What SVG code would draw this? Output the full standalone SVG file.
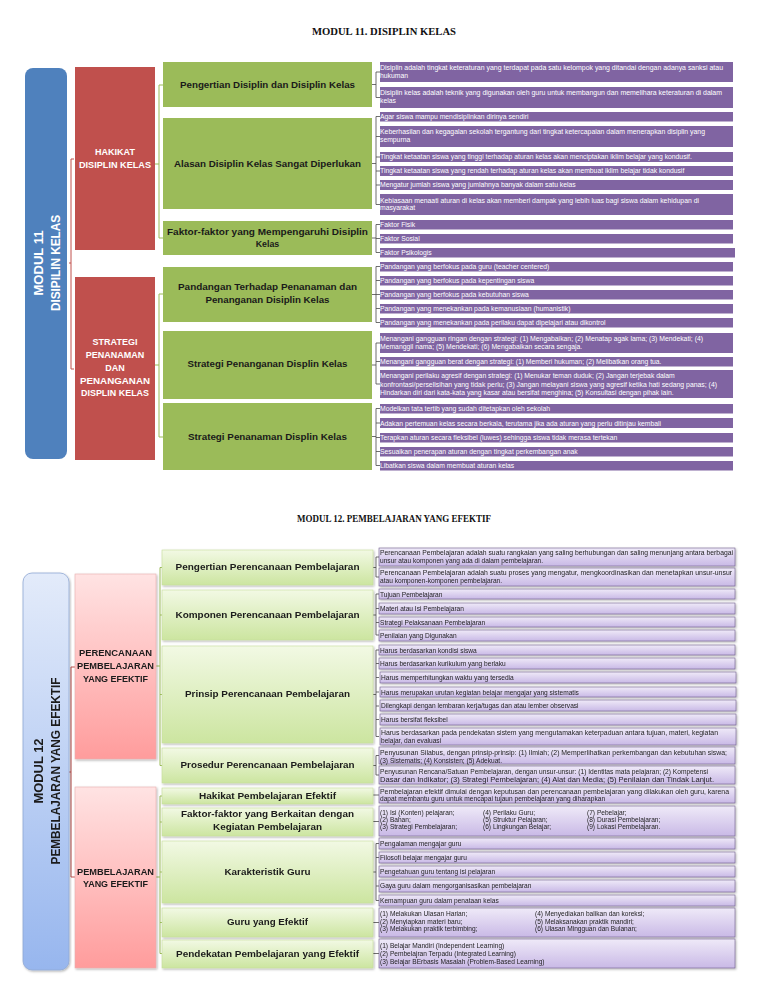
<svg xmlns="http://www.w3.org/2000/svg" width="768" height="1006" viewBox="0 0 768 1006">
<defs>
<style>
text{font-family:"Liberation Sans",Arial,sans-serif;dominant-baseline:central}
.title{font-family:"Liberation Serif","DejaVu Serif",serif;font-weight:bold;font-size:10px;fill:#111;text-anchor:middle}
.b11{fill:#4F81BD}
.r11{fill:#C0504D}
.g11{fill:#9BBB59}
.p11{fill:#8064A2}
.wt{fill:#fff;font-weight:bold;text-anchor:middle}
.gt{fill:#1a1a1a;font-weight:bold;font-size:8.8px;text-anchor:middle}
.pt{fill:#fff;font-size:6.8px}
.qt{fill:#1e1e1e;font-size:6.6px}
.dt{fill:#1a1a1a;font-weight:bold;text-anchor:middle}
.b12{fill:url(#gB);stroke:#8FA8D4;stroke-width:0.8}
.r12{fill:url(#gR);stroke:#E8B0B0;stroke-width:0.6}
.g12{fill:url(#gG);stroke:#C6DC9C;stroke-width:0.6}
.p12{fill:url(#gP);stroke:#6E5E8C;stroke-width:0.6}
.cr{stroke:#C0504D;stroke-width:1;fill:none}
.cg{stroke:#9BBB59;stroke-width:1;fill:none}
.cp{stroke:#4a4a4a;stroke-width:0.8;fill:none}
</style>
<linearGradient id="gB" x1="0" y1="0" x2="0" y2="1"><stop offset="0" stop-color="#E3EBFA"/><stop offset="1" stop-color="#97B6EE"/></linearGradient>
<linearGradient id="gR" x1="0" y1="0" x2="0" y2="1"><stop offset="0" stop-color="#FFE3E3"/><stop offset="1" stop-color="#FF9C9C"/></linearGradient>
<linearGradient id="gG" x1="0" y1="0" x2="0" y2="1"><stop offset="0" stop-color="#F2F9E4"/><stop offset="1" stop-color="#CCE5A0"/></linearGradient>
<linearGradient id="gP" x1="0" y1="0" x2="0" y2="1"><stop offset="0" stop-color="#EFEAF8"/><stop offset="1" stop-color="#C9B9E6"/></linearGradient>
<filter id="sh" x="-5%" y="-20%" width="110%" height="150%"><feDropShadow dx="1" dy="1.2" stdDeviation="0.8" flood-color="#000" flood-opacity="0.3"/></filter>
</defs>
<rect width="768" height="1006" fill="#fff"/>

<text class="title" x="384" y="31" textLength="144" lengthAdjust="spacingAndGlyphs">MODUL 11. DISIPLIN KELAS</text>
<text class="title" x="394" y="518" textLength="194" lengthAdjust="spacingAndGlyphs">MODUL 12. PEMBELAJARAN YANG EFEKTIF</text>

<!-- ================= MODUL 11 connectors ================= -->
<g id="connectors11">
<path class="cr" d="M69,263 H71 M74,159 H71 V369 H74"/>
<path class="cg" d="M155,164 H159 M163,85 H159 V238 H163"/>
<path class="cg" d="M155,365 H159 M163,294 H159 V437 H163"/>
<path class="cp" d="M372,84.5 H376 M380,72 H376 V97.5 H380"/>
<path class="cp" d="M372,163.5 H376 M380,116.5 H376 V204.5 H380 M376,136.5 H380 M376,157 H380 M376,171 H380 M376,185 H380"/>
<path class="cp" d="M372,238 H376 M380,224.5 H376 V252.5 H380 M376,238.5 H380"/>
<path class="cp" d="M372,294.5 H376 M380,266.5 H376 V322.5 H380 M376,280.5 H380 M376,294.5 H380 M376,308.5 H380"/>
<path class="cp" d="M372,365 H376 M380,343 H376 V384 H380 M376,361.5 H380"/>
<path class="cp" d="M372,436.5 H376 M380,408.5 H376 V465.5 H380 M376,423 H380 M376,437.5 H380 M376,451.5 H380"/>
</g>

<g id="m11-root">
<rect class="b11" x="25" y="68" width="42" height="391" rx="8"/>
<text class="wt" font-size="12" transform="translate(38.5,263) rotate(-90)" textLength="65" lengthAdjust="spacingAndGlyphs">MODUL 11</text>
<text class="wt" font-size="12" transform="translate(55.5,263) rotate(-90)" textLength="96" lengthAdjust="spacingAndGlyphs">DISIPILIN KELAS</text>
</g>

<g id="m11-hakikat">
<rect class="r11" x="75" y="67" width="80" height="183"/>
<text class="wt" font-size="9" x="115" y="151.7">HAKIKAT</text>
<text class="wt" font-size="9" x="115" y="165" textLength="72" lengthAdjust="spacingAndGlyphs">DISIPLIN KELAS</text>
</g>
<g id="m11-strategi">
<rect class="r11" x="75" y="277" width="80" height="183"/>
<text class="wt" font-size="9" x="115" y="342.3">STRATEGI</text>
<text class="wt" font-size="9" x="115" y="355">PENANAMAN</text>
<text class="wt" font-size="9" x="115" y="368.3">DAN</text>
<text class="wt" font-size="9" x="115" y="380.7" textLength="70" lengthAdjust="spacingAndGlyphs">PENANGANAN</text>
<text class="wt" font-size="9" x="115" y="393.3" textLength="68" lengthAdjust="spacingAndGlyphs">DISPLIN KELAS</text>
</g>

<g id="m11-g1"><rect class="g11" x="163" y="62" width="209" height="45"/><text class="gt" x="267.5" y="85" textLength="175" lengthAdjust="spacingAndGlyphs">Pengertian Disiplin dan Disiplin Kelas</text></g>
<g id="m11-g2"><rect class="g11" x="163" y="118" width="209" height="91"/><text class="gt" x="267.5" y="164" textLength="187" lengthAdjust="spacingAndGlyphs">Alasan Disiplin Kelas Sangat Diperlukan</text></g>
<g id="m11-g3"><rect class="g11" x="163" y="221" width="209" height="34"/><text class="gt" x="267.5" y="232.3" textLength="201" lengthAdjust="spacingAndGlyphs">Faktor-faktor yang Mempengaruhi Disiplin</text><text class="gt" x="267.5" y="244">Kelas</text></g>
<g id="m11-g4"><rect class="g11" x="163" y="267" width="209" height="55"/><text class="gt" x="267.5" y="287.3" textLength="179" lengthAdjust="spacingAndGlyphs">Pandangan Terhadap Penanaman dan</text><text class="gt" x="267.5" y="300" textLength="124" lengthAdjust="spacingAndGlyphs">Penanganan Disiplin Kelas</text></g>
<g id="m11-g5"><rect class="g11" x="163" y="331" width="209" height="68"/><text class="gt" x="267.5" y="364.3" textLength="160" lengthAdjust="spacingAndGlyphs">Strategi Penanganan Displin Kelas</text></g>
<g id="m11-g6"><rect class="g11" x="163" y="403" width="209" height="67"/><text class="gt" x="267.5" y="436.7" textLength="159" lengthAdjust="spacingAndGlyphs">Strategi Penanaman Displin Kelas</text></g>

<g id="m11-leaves">
<g id="m11-p1"><rect class="p11" x="380" y="62" width="353" height="20"/><text class="pt" x="380" y="67.7" textLength="343" lengthAdjust="spacingAndGlyphs">Disiplin adalah tingkat keteraturan yang terdapat pada satu kelompok yang ditandai dengan adanya sanksi atau</text><text class="pt" x="380" y="75.7">hukuman</text></g>
<g id="m11-p2"><rect class="p11" x="380" y="87" width="353" height="21"/><text class="pt" x="380" y="92.7" textLength="342" lengthAdjust="spacingAndGlyphs">Disiplin kelas adalah teknik yang digunakan oleh guru untuk membangun dan memelihara keteraturan di dalam</text><text class="pt" x="380" y="100.7">kelas</text></g>
<g id="m11-p3"><rect class="p11" x="380" y="112" width="353" height="9.5"/><text class="pt" x="380" y="116.7">Agar siswa mampu mendisiplinkan dirinya sendiri</text></g>
<g id="m11-p4"><rect class="p11" x="380" y="126" width="353" height="21"/><text class="pt" x="380" y="131" textLength="325" lengthAdjust="spacingAndGlyphs">Keberhasilan dan kegagalan sekolah tergantung dari tingkat ketercapaian dalam menerapkan disiplin yang</text><text class="pt" x="380" y="139.3">sempurna</text></g>
<g id="m11-p5"><rect class="p11" x="380" y="152" width="353" height="10"/><text class="pt" x="380" y="156.5">Tingkat ketaatan siswa yang tinggi terhadap aturan kelas akan menciptakan iklim belajar yang kondusif.</text></g>
<g id="m11-p6"><rect class="p11" x="380" y="166" width="353" height="10"/><text class="pt" x="380" y="170.5">Tingkat ketaatan siswa yang rendah terhadap aturan kelas akan membuat iklim belajar tidak kondusif</text></g>
<g id="m11-p7"><rect class="p11" x="380" y="180" width="353" height="10"/><text class="pt" x="380" y="184.5">Mengatur jumlah siswa yang jumlahnya banyak dalam satu kelas</text></g>
<g id="m11-p8"><rect class="p11" x="380" y="194" width="353" height="21"/><text class="pt" x="380" y="200" textLength="319" lengthAdjust="spacingAndGlyphs">Kebiasaan menaati aturan di kelas akan memberi dampak yang lebih luas bagi siswa dalam kehidupan di</text><text class="pt" x="380" y="207.7">masyarakat</text></g>
<g id="m11-p9"><rect class="p11" x="380" y="220" width="353" height="9.5"/><text class="pt" x="380" y="224.5">Faktor Fisik</text></g>
<g id="m11-p10"><rect class="p11" x="380" y="234" width="353" height="9.5"/><text class="pt" x="380" y="238.5" font-size="7.6">Faktor Sosial</text></g>
<g id="m11-p11"><rect class="p11" x="380" y="248" width="355" height="9.5"/><text class="pt" x="380" y="252.5">Faktor Psikologis</text></g>
<g id="m11-p12"><rect class="p11" x="380" y="262" width="353" height="9.5"/><text class="pt" x="380" y="266.5">Pandangan yang berfokus pada guru (teacher centered)</text></g>
<g id="m11-p13"><rect class="p11" x="380" y="276" width="353" height="9.5"/><text class="pt" x="380" y="280.5">Pandangan yang berfokus pada kepentingan siswa</text></g>
<g id="m11-p14"><rect class="p11" x="380" y="290" width="353" height="9.5"/><text class="pt" x="380" y="294.5">Pandangan yang berfokus pada kebutuhan siswa</text></g>
<g id="m11-p15"><rect class="p11" x="380" y="304" width="353" height="9.5"/><text class="pt" x="380" y="308.5">Pandangan yang menekankan pada kemanusiaan (humanistik)</text></g>
<g id="m11-p16"><rect class="p11" x="380" y="318" width="353" height="9.5"/><text class="pt" x="380" y="322.5">Pandangan yang menekankan pada perilaku dapat dipelajari atau dikontrol</text></g>
<g id="m11-p17"><rect class="p11" x="380" y="333" width="353" height="20"/><text class="pt" x="380" y="338" textLength="323" lengthAdjust="spacingAndGlyphs">Menangani gangguan ringan dengan strategi: (1) Mengabaikan; (2) Menatap agak lama; (3) Mendekati; (4)</text><text class="pt" x="380" y="346">Memanggil nama; (5) Mendekati; (6) Mengabaikan secara sengaja.</text></g>
<g id="m11-p18"><rect class="p11" x="380" y="357" width="353" height="9.5"/><text class="pt" x="380" y="361.5">Menangani gangguan berat dengan strategi: (1) Memberi hukuman; (2) Melibatkan orang tua.</text></g>
<g id="m11-p19"><rect class="p11" x="380" y="370" width="353" height="28"/><text class="pt" x="380" y="375.7">Menangani perilaku agresif dengan strategi: (1) Menukar teman duduk; (2) Jangan terjebak dalam</text><text class="pt" x="380" y="384" textLength="337" lengthAdjust="spacingAndGlyphs">konfrontasi/perselisihan yang tidak perlu; (3) Jangan melayani siswa yang agresif ketika hati sedang panas; (4)</text><text class="pt" x="380" y="392">Hindarkan diri dari kata-kata yang kasar atau bersifat menghina; (5) Konsultasi dengan pihak lain.</text></g>
<g id="m11-p20"><rect class="p11" x="380" y="404" width="353" height="9.5"/><text class="pt" x="380" y="408.5">Modelkan tata tertib yang sudah ditetapkan oleh sekolah</text></g>
<g id="m11-p21"><rect class="p11" x="380" y="418" width="353" height="10"/><text class="pt" x="380" y="423">Adakan pertemuan kelas secara berkala, terutama jika ada aturan yang perlu ditinjau kembali</text></g>
<g id="m11-p22"><rect class="p11" x="380" y="433" width="353" height="9.5"/><text class="pt" x="380" y="437.5">Terapkan aturan secara fleksibel (luwes) sehingga siswa tidak merasa tertekan</text></g>
<g id="m11-p23"><rect class="p11" x="380" y="447" width="353" height="9.5"/><text class="pt" x="380" y="451.5">Sesuaikan penerapan aturan dengan tingkat perkembangan anak</text></g>
<g id="m11-p24"><rect class="p11" x="380" y="461" width="353" height="9.5"/><text class="pt" x="380" y="465.5">Libatkan siswa dalam membuat aturan kelas</text></g>
</g>

<!-- ================= MODUL 12 connectors ================= -->
<g id="connectors12">
<path class="cr" d="M69,772 H71 M75,667 H71 V877 H75"/>
<path class="cg" d="M156,666 H160 M162,567.5 H160 V765.5 H162 M160,615 H162 M160,694.5 H162"/>
<path class="cg" d="M156,877 H160 M162,796 H160 V953.5 H162 M160,822 H162 M160,872 H162 M160,922.5 H162"/>
<path class="cp" d="M373,567.5 H376 M379,557 H376 V577 H379"/>
<path class="cp" d="M373,615 H376 M379,594 H376 V635 H379 M376,608.5 H379 M376,622.5 H379"/>
<path class="cp" d="M373,694.5 H376 M379,650 H376 V736.5 H379 M376,663.5 H379 M376,677.5 H379 M376,692 H379 M376,706 H379 M376,719.5 H379"/>
<path class="cp" d="M373,765.5 H376 M379,755.5 H376 V775 H379"/>
<path class="cp" d="M373,795 H379"/>
<path class="cp" d="M373,821.5 H379"/>
<path class="cp" d="M373,872 H376 M379,843.5 H376 V900.5 H379 M376,857.5 H379 M376,886 H379"/>
<path class="cp" d="M373,922.5 H379"/>
<path class="cp" d="M373,953.5 H379"/>
</g>

<g id="m12-root" filter="url(#sh)">
<rect class="b12" x="23" y="573" width="46" height="397" rx="9"/>
<text class="dt" font-size="12" transform="translate(38.5,771) rotate(-90)" textLength="65" lengthAdjust="spacingAndGlyphs">MODUL 12</text>
<text class="dt" font-size="12" transform="translate(55.5,771) rotate(-90)" textLength="187" lengthAdjust="spacingAndGlyphs">PEMBELAJARAN YANG EFEKTIF</text>
</g>

<g id="m12-perencanaan" filter="url(#sh)">
<rect class="r12" x="75" y="574" width="81" height="185"/>
<text class="dt" font-size="9" x="115.5" y="653.3" textLength="73" lengthAdjust="spacingAndGlyphs">PERENCANAAN</text>
<text class="dt" font-size="9" x="115.5" y="666" textLength="77" lengthAdjust="spacingAndGlyphs">PEMBELAJARAN</text>
<text class="dt" font-size="9" x="115.5" y="679" textLength="65" lengthAdjust="spacingAndGlyphs">YANG EFEKTIF</text>
</g>
<g id="m12-pembelajaran" filter="url(#sh)">
<rect class="r12" x="75" y="787" width="81" height="181"/>
<text class="dt" font-size="9" x="115.5" y="871.7" textLength="77" lengthAdjust="spacingAndGlyphs">PEMBELAJARAN</text>
<text class="dt" font-size="9" x="115.5" y="884" textLength="65" lengthAdjust="spacingAndGlyphs">YANG EFEKTIF</text>
</g>

<g id="m12-g1" filter="url(#sh)"><rect class="g12" x="162" y="550" width="211" height="35"/><text class="gt" x="267.5" y="566.7" textLength="184" lengthAdjust="spacingAndGlyphs">Pengertian Perencanaan Pembelajaran</text></g>
<g id="m12-g2" filter="url(#sh)"><rect class="g12" x="162" y="590" width="211" height="50"/><text class="gt" x="267.5" y="615" textLength="184" lengthAdjust="spacingAndGlyphs">Komponen Perencanaan Pembelajaran</text></g>
<g id="m12-g3" filter="url(#sh)"><rect class="g12" x="162" y="646" width="211" height="97"/><text class="gt" x="267.5" y="694" textLength="165" lengthAdjust="spacingAndGlyphs">Prinsip Perencanaan Pembelajaran</text></g>
<g id="m12-g4" filter="url(#sh)"><rect class="g12" x="162" y="748" width="211" height="35"/><text class="gt" x="267.5" y="765" textLength="174" lengthAdjust="spacingAndGlyphs">Prosedur Perencanaan Pembelajaran</text></g>
<g id="m12-g5" filter="url(#sh)"><rect class="g12" x="162" y="788" width="211" height="16"/><text class="gt" x="267.5" y="795.5" textLength="137" lengthAdjust="spacingAndGlyphs">Hakikat Pembelajaran Efektif</text></g>
<g id="m12-g6" filter="url(#sh)"><rect class="g12" x="162" y="808" width="211" height="28"/><text class="gt" x="267.5" y="814.3" textLength="173" lengthAdjust="spacingAndGlyphs">Faktor-faktor yang Berkaitan dengan</text><text class="gt" x="267.5" y="827.3" textLength="109" lengthAdjust="spacingAndGlyphs">Kegiatan Pembelajaran</text></g>
<g id="m12-g7" filter="url(#sh)"><rect class="g12" x="162" y="841" width="211" height="62"/><text class="gt" x="267.5" y="871.7" textLength="86" lengthAdjust="spacingAndGlyphs">Karakteristik Guru</text></g>
<g id="m12-g8" filter="url(#sh)"><rect class="g12" x="162" y="908" width="211" height="29"/><text class="gt" x="267.5" y="921.5" textLength="81" lengthAdjust="spacingAndGlyphs">Guru yang Efektif</text></g>
<g id="m12-g9" filter="url(#sh)"><rect class="g12" x="162" y="940" width="211" height="28"/><text class="gt" x="267.5" y="953.5" textLength="183" lengthAdjust="spacingAndGlyphs">Pendekatan Pembelajaran yang Efektif</text></g>

<g id="m12-leaves">
<g id="m12-p1" filter="url(#sh)"><rect class="p12" x="379" y="548" width="356" height="18"/><text class="qt" x="380" y="552.3" textLength="353" lengthAdjust="spacingAndGlyphs">Perencanaan Pembelajaran adalah suatu rangkaian yang saling berhubungan dan saling menunjang antara berbagai</text><text class="qt" x="380" y="560.5">unsur atau komponen yang ada di dalam pembelajaran.</text></g>
<g id="m12-p2" filter="url(#sh)"><rect class="p12" x="379" y="568" width="356" height="18"/><text class="qt" x="380" y="572.5" textLength="352" lengthAdjust="spacingAndGlyphs">Perencanaan Pembelajaran adalah suatu proses yang mengatur, mengkoordinasikan dan menetapkan unsur-unsur</text><text class="qt" x="380" y="580.7">atau komponen-komponen pembelajaran.</text></g>
<g id="m12-p3" filter="url(#sh)"><rect class="p12" x="379" y="589" width="356" height="10"/><text class="qt" x="380" y="594">Tujuan Pembelajaran</text></g>
<g id="m12-p4" filter="url(#sh)"><rect class="p12" x="379" y="603" width="356" height="11"/><text class="qt" x="380" y="608.5">Materi atau Isi Pembelajaran</text></g>
<g id="m12-p5" filter="url(#sh)"><rect class="p12" x="379" y="617" width="356" height="10"/><text class="qt" x="380" y="622">Strategi Pelaksanaan Pembelajaran</text></g>
<g id="m12-p6" filter="url(#sh)"><rect class="p12" x="379" y="630" width="356" height="11"/><text class="qt" x="380" y="635.5">Penilaian yang Digunakan</text></g>
<g id="m12-p7" filter="url(#sh)"><rect class="p12" x="379" y="645" width="356" height="10"/><text class="qt" x="380" y="650">Harus berdasarkan kondisi siswa</text></g>
<g id="m12-p8" filter="url(#sh)"><rect class="p12" x="379" y="658" width="356" height="11"/><text class="qt" x="380" y="663.5">Harus berdasarkan kurikulum yang berlaku</text></g>
<g id="m12-p9" filter="url(#sh)"><rect class="p12" x="380" y="672" width="356" height="11"/><text class="qt" x="381" y="677.5">Harus memperhitungkan waktu yang tersedia</text></g>
<g id="m12-p10" filter="url(#sh)"><rect class="p12" x="380" y="687" width="356" height="10"/><text class="qt" x="381" y="692">Harus merupakan urutan kegiatan belajar mengajar yang sistematis</text></g>
<g id="m12-p11" filter="url(#sh)"><rect class="p12" x="380" y="700" width="356" height="11"/><text class="qt" x="381" y="705.5">Dilengkapi dengan lembaran kerja/tugas dan atau lember observasi</text></g>
<g id="m12-p12" filter="url(#sh)"><rect class="p12" x="380" y="714" width="356" height="11"/><text class="qt" x="381" y="719.5">Harus bersifat fleksibel</text></g>
<g id="m12-p13" filter="url(#sh)"><rect class="p12" x="380" y="728" width="356" height="17"/><text class="qt" x="381" y="732.7" textLength="337" lengthAdjust="spacingAndGlyphs">Harus berdasarkan pada pendekatan sistem yang mengutamakan keterpaduan antara tujuan, materi, kegiatan</text><text class="qt" x="381" y="740">belajar, dan evaluasi</text></g>
<g id="m12-p14" filter="url(#sh)"><rect class="p12" x="379" y="747" width="356" height="17"/><text class="qt" x="380" y="752.3" textLength="347" lengthAdjust="spacingAndGlyphs">Penyusunan Silabus, dengan prinsip-prinsip: (1) Ilmiah; (2) Memperlihatkan perkembangan dan kebutuhan siswa;</text><text class="qt" x="380" y="760.3">(3) Sistematis; (4) Konsisten; (5) Adekuat.</text></g>
<g id="m12-p15" filter="url(#sh)"><rect class="p12" x="379" y="766" width="356" height="18"/><text class="qt" x="380" y="771.5" textLength="328" lengthAdjust="spacingAndGlyphs">Penyusunan Rencana/Satuan Pembelajaran, dengan unsur-unsur: (1) Identitas mata pelajaran; (2) Kompetensi</text><text class="qt" x="380" y="779.5" textLength="334" lengthAdjust="spacingAndGlyphs">Dasar dan Indikator; (3) Strategi Pembelajaran; (4) Alat dan Media; (5) Penilaian dan Tindak Lanjut.</text></g>
<g id="m12-p16" filter="url(#sh)"><rect class="p12" x="379" y="787" width="356" height="16"/><text class="qt" x="380" y="791.3" textLength="349" lengthAdjust="spacingAndGlyphs">Pembelajaran efektif dimulai dengan keputusan dan perencanaan pembelajaran yang dilakukan oleh guru, karena</text><text class="qt" x="380" y="798.7">dapat membantu guru untuk mencapai tujaun pembelajaran yang diharapkan</text></g>
<g id="m12-p17" filter="url(#sh)"><rect class="p12" x="379" y="806" width="356" height="30"/>
<text class="qt" x="380" y="812">(1) Isi (Konten) pelajaran;</text><text class="qt" x="380" y="819.2">(2) Bahan;</text><text class="qt" x="380" y="826.4">(3) Strategi Pembelajaran;</text>
<text class="qt" x="483" y="812">(4) Perilaku Guru;</text><text class="qt" x="483" y="819.2">(5) Struktur Pelajaran;</text><text class="qt" x="483" y="826.4">(6) Lingkungan Belajar;</text>
<text class="qt" x="587" y="812">(7) Pebelajar;</text><text class="qt" x="587" y="819.2">(8) Durasi Pembelajaran;</text><text class="qt" x="587" y="826.4">(9) Lokasi Pembelajaran.</text></g>
<g id="m12-p18" filter="url(#sh)"><rect class="p12" x="379" y="838" width="356" height="11"/><text class="qt" x="380" y="843.7">Pengalaman mengajar guru</text></g>
<g id="m12-p19" filter="url(#sh)"><rect class="p12" x="379" y="852" width="356" height="11"/><text class="qt" x="380" y="857.7">Filosofi belajar mengajar guru</text></g>
<g id="m12-p20" filter="url(#sh)"><rect class="p12" x="379" y="866" width="356" height="11"/><text class="qt" x="380" y="871.7">Pengetahuan guru tentang isi pelajaran</text></g>
<g id="m12-p21" filter="url(#sh)"><rect class="p12" x="379" y="880" width="356" height="12"/><text class="qt" x="380" y="885.7">Gaya guru dalam mengorganisasikan pembelajaran</text></g>
<g id="m12-p22" filter="url(#sh)"><rect class="p12" x="379" y="895" width="356" height="11"/><text class="qt" x="380" y="900.2">Kemampuan guru dalam penataan kelas</text></g>
<g id="m12-p23" filter="url(#sh)"><rect class="p12" x="379" y="908" width="356" height="29"/>
<text class="qt" x="380" y="913.5">(1) Melakukan Ulasan Harian;</text><text class="qt" x="380" y="921">(2) Menyiapkan materi baru;</text><text class="qt" x="380" y="928.5">(3) Melakukan praktik terbimbing;</text>
<text class="qt" x="535" y="913.5">(4) Menyediakan balikan dan koreksi;</text><text class="qt" x="535" y="921">(5) Melaksanakan praktik mandiri;</text><text class="qt" x="535" y="928.5">(6) Ulasan Mingguan dan Bulanan;</text></g>
<g id="m12-p24" filter="url(#sh)"><rect class="p12" x="379" y="939" width="356" height="29"/>
<text class="qt" x="380" y="945.7">(1) Belajar Mandiri (Independent Learning)</text><text class="qt" x="380" y="953.3">(2) Pembelajran Terpadu (Integrated Learning)</text><text class="qt" x="380" y="961">(3) Belajar BErbasis Masalah (Problem-Based Learning)</text></g>
</g>
</svg>
